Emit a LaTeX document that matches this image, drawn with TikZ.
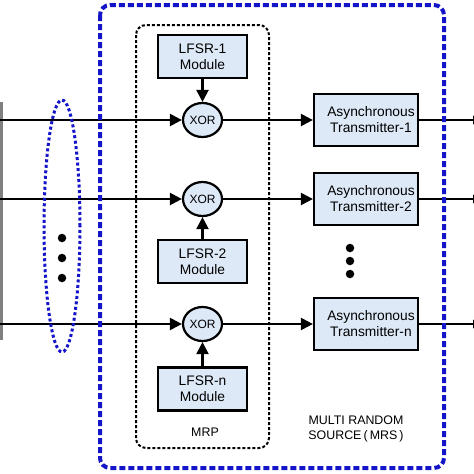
\documentclass[tikz,border=0pt]{standalone}
\usepackage{fontspec}
\setmainfont{Liberation Sans}
\usetikzlibrary{arrows.meta,shapes.geometric}
\definecolor{mrsblue}{RGB}{20,20,200}
\definecolor{boxfill}{RGB}{222,233,247}
\begin{document}
\begin{tikzpicture}[x=1pt,y=-1pt,
  wire/.style={line width=2.2pt,draw=black},
  tip/.style={-{Triangle[length=12pt,width=12pt]}},
  modbox/.style={draw,line width=2.2pt,fill=boxfill,rectangle,inner sep=0pt,
    minimum width=89pt,minimum height=43pt,align=center,font=\fontsize{13.8}{16}\selectfont},
  txbox/.style={draw,line width=2.2pt,fill=boxfill,rectangle,inner sep=0pt,
    minimum width=104pt,minimum height=52pt},
  txlabel/.style={align=center,font=\fontsize{13.8}{16}\selectfont},
  xorgate/.style={draw,line width=2.2pt,fill=boxfill,ellipse,inner sep=0pt,
    minimum width=39pt,minimum height=34pt,font=\fontsize{12}{13}\selectfont},
  dot/.style={circle,fill=black,inner sep=0pt,minimum size=8.5pt},
  note/.style={align=center,font=\fontsize{12.4}{14.5}\selectfont}]
\useasboundingbox (0,0) rectangle (474,474);
\clip (0,0) rectangle (474,474);

% input bus bar on the left edge
\fill[black!50] (0,102) rectangle (3,340);

% LFSR modules
\node[modbox] (lf1) at (202.5,56.5) {LFSR-1\\Module};
\node[modbox] (lf2) at (202.5,261.5) {LFSR-2\\Module};
\node[modbox] (lfn) at (202.5,389) {LFSR-n\\Module};

% XOR gates
\node[xorgate] (x1) at (202.5,120) {XOR};
\node[xorgate] (x2) at (202.5,199) {XOR};
\node[xorgate] (xn) at (202.5,324) {XOR};

% asynchronous transmitters
\node[txbox,label={[txlabel,xshift=5pt]center:Asynchronous\\Transmitter-1}] (t1) at (366,120) {};
\node[txbox,label={[txlabel,xshift=5pt]center:Asynchronous\\Transmitter-2}] (t2) at (366,199) {};
\node[txbox,label={[txlabel,xshift=5pt]center:Asynchronous\\Transmitter-n}] (tn) at (366,324) {};

% free ends of the channels (their tips run past the edge)
\coordinate (i1) at (0,120);
\coordinate (i2) at (0,199);
\coordinate (in) at (0,324);
\coordinate (o1) at (485,120);
\coordinate (o2) at (485,199);
\coordinate (on) at (485,324);

% signal paths
\foreach \k in {1,2,n} {
  \draw[wire,tip] (i\k) -- (x\k);
  \draw[wire,tip] (x\k) -- (t\k);
  \draw[wire,-{Triangle[length=12pt,width=8pt]}] (t\k) -- (o\k);
}
\draw[wire,tip] (lf1) -- (x1);
\draw[wire,tip] (lf2) -- (x2);
\draw[wire,tip] (lfn) -- (xn);

% ellipsis dots
\node[dot] (d1) at (62,238) {};
\node[dot] (d2) at (62,258) {};
\node[dot] (d3) at (62,278) {};
\node[dot] (e1) at (350,248) {};
\node[dot] (e2) at (350,261) {};
\node[dot] (e3) at (350,274) {};

% grouping of the input channels
\draw[mrsblue,line width=3pt,dash pattern=on 3pt off 2.5pt]
  (62,226) ellipse [x radius=18pt,y radius=126pt];

% MRP frame
\draw[line width=2pt,dash pattern=on 3pt off 2pt,rounded corners=10pt]
  (136,25) rectangle (269,448);
\node[note] (mrp) at (205,432) {MRP};

% MRS frame
\draw[mrsblue,line width=4pt,dash pattern=on 6pt off 3pt,rounded corners=10pt]
  (100,5) rectangle (444,468);
\node[note] (mrs) at (356,429) {MULTI RANDOM\\SOURCE\,(\,MRS\,)};
\end{tikzpicture}
\end{document}
